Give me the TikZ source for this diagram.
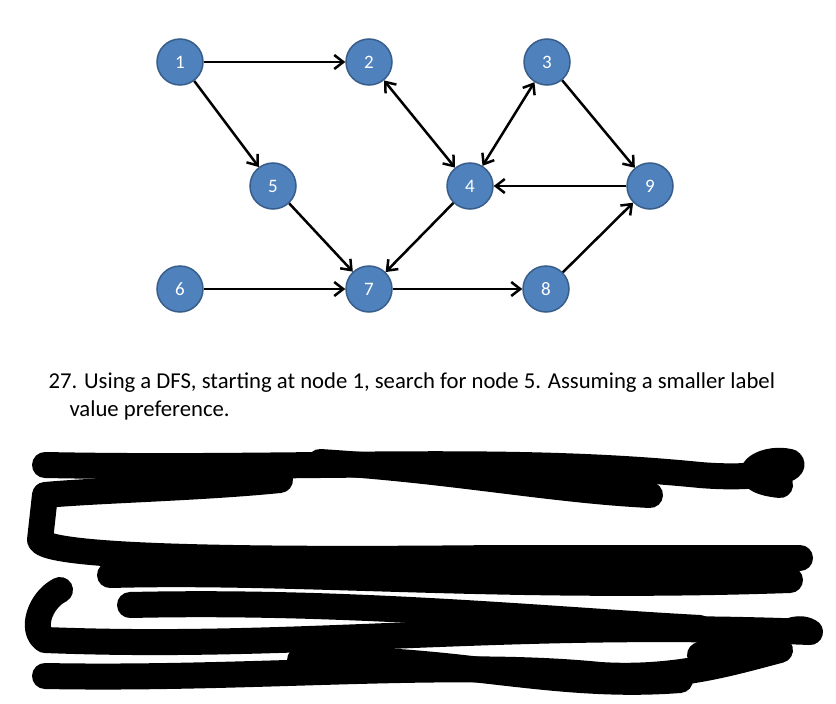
\documentclass[tikz,border=0pt]{standalone}
\usepackage{fontspec}
\setmainfont{Carlito}
\usetikzlibrary{arrows.meta}
\begin{document}
\begin{tikzpicture}[x=1pt,y=-1pt,
  vert/.style={circle,fill={rgb,255:red,79;green,129;blue,189},draw={rgb,255:red,56;green,93;blue,138},line width=1.5pt,minimum size=46pt,inner sep=0pt,text=white,font=\fontsize{19}{19}\selectfont},
  edge/.style={line width=2.5pt,-{Straight Barb[length=9pt,width=14pt,line width=2.5pt]}},
  bedge/.style={line width=2.5pt,{Straight Barb[length=9pt,width=14pt,line width=2.5pt]}-{Straight Barb[length=9pt,width=14pt,line width=2.5pt]}},
  scrib/.style={line width=26pt,line cap=round,line join=round,black}]
\useasboundingbox (0,0) rectangle (836,704);
\node[vert] (n1) at (180,62) {1};
\node[vert] (n2) at (369,62) {2};
\node[vert] (n3) at (547,62) {3};
\node[vert] (n5) at (273,186) {5};
\node[vert] (n4) at (470,186) {4};
\node[vert] (n9) at (650,186) {9};
\node[vert] (n6) at (180,289) {6};
\node[vert] (n7) at (369,289) {7};
\node[vert] (n8) at (546,289) {8};
\draw[edge] (n1) -- (n2);
\draw[edge] (n1) -- (n5);
\draw[edge] (n5) -- (n7);
\draw[edge] (n6) -- (n7);
\draw[edge] (n7) -- (n8);
\draw[edge] (n8) -- (n9);
\draw[edge] (n3) -- (n9);
\draw[edge] (n9) -- (n4);
\draw[edge] (n4) -- (n7);
\draw[bedge] (n2) -- (n4);
\draw[bedge] (n4) -- (n3);
\node[anchor=west,font=\fontsize{22.7}{22.7}\selectfont] (q1) at (45,383) {27. Using a DFS, starting at node 1, search for node 5. Assuming a smaller label};
\node[anchor=west,font=\fontsize{22.7}{22.7}\selectfont] (q2) at (66,410) {value preference.};
\draw[scrib] (45,465) .. controls (300,470) and (500,455) .. (700,475) .. controls (760,480) and (800,470) .. (790,462) .. controls (760,455) and (730,480) .. (780,485);
\draw[scrib] (320,462) .. controls (450,470) and (550,490) .. (650,495);
\draw[scrib] (280,480) .. controls (200,488) and (100,490) .. (45,495) -- (40,540) .. controls (45,560) and (300,560) .. (500,558) -- (800,558);
\draw[scrib] (110,575) .. controls (300,570) and (500,590) .. (790,580);
\draw[scrib] (60,590) .. controls (40,600) and (30,630) .. (45,640) .. controls (300,650) and (500,620) .. (810,632) .. controls (790,620) and (770,650) .. (700,655);
\draw[scrib] (130,605) .. controls (350,600) and (550,620) .. (700,628);
\draw[scrib] (45,676) .. controls (250,680) and (450,660) .. (600,675) .. controls (680,680) and (740,660) .. (780,650);
\draw[scrib] (300,660) .. controls (450,655) and (550,690) .. (680,680);
\end{tikzpicture}
\end{document}
